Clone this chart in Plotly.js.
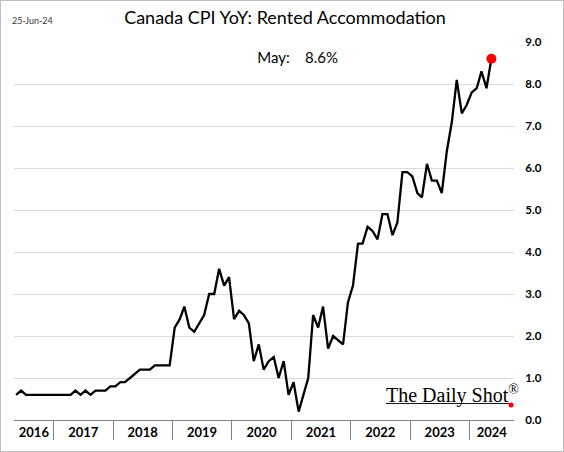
<!DOCTYPE html>
<html>
<head>
<meta charset="utf-8">
<script src="https://cdn.plot.ly/plotly-3.0.1.min.js"></script>
<style>
  html, body { margin: 0; padding: 0; background: #fff; }
  #wrap { position: relative; width: 564px; height: 452px; }
  #chart { width: 564px; height: 452px; }
  #frame { position: absolute; left: 0; top: 0; width: 564px; height: 452px;
           box-sizing: border-box; border: 1px solid #bdbdbd; pointer-events: none; }
</style>
</head>
<body>
<div id="wrap"><div id="chart"></div><div id="frame"></div></div>
<script>
// Canada CPI, rented accommodation, year-over-year % change (monthly, from May 2016)
const startYear = 2016;
const startMonth = 5;
const rentYoY = [
  0.6, 0.7, 0.6, 0.6, 0.6, 0.6, 0.6, 0.6,                               // 2016 May-Dec
  0.6, 0.6, 0.6, 0.6, 0.7, 0.6, 0.7, 0.6, 0.7, 0.7, 0.7, 0.8,           // 2017
  0.8, 0.9, 0.9, 1.0, 1.1, 1.2, 1.2, 1.2, 1.3, 1.3, 1.3, 1.3,           // 2018
  2.2, 2.4, 2.7, 2.2, 2.1, 2.3, 2.5, 3.0, 3.0, 3.6, 3.2, 3.4,           // 2019
  2.4, 2.6, 2.5, 2.3, 1.4, 1.8, 1.2, 1.4, 1.5, 1.0, 1.4, 0.6,           // 2020
  0.9, 0.2, 0.6, 1.0, 2.5, 2.2, 2.7, 1.7, 2.0, 1.9, 1.8, 2.8,           // 2021
  3.2, 4.2, 4.2, 4.6, 4.5, 4.3, 4.9, 4.9, 4.4, 4.7, 5.9, 5.9,           // 2022
  5.8, 5.4, 5.3, 6.1, 5.7, 5.7, 5.4, 6.4, 7.1, 8.1, 7.3, 7.5,           // 2023
  7.8, 7.9, 8.3, 7.9, 8.6                                               // 2024 Jan-May
];
const yearLabels = ['2016', '2017', '2018', '2019', '2020', '2021', '2022', '2023', '2024'];
const axisStart = '2016-05-02';
const axisEnd = '2024-10-01';
const releaseDate = '25-Jun-24';
const latestMonthName = 'May';
const yTicks = [0, 1, 2, 3, 4, 5, 6, 7, 8, 9];

// mid-month dates for each observation
const dates = rentYoY.map((_, i) => {
  const m = startMonth - 1 + i;
  const y = startYear + Math.floor(m / 12);
  const mm = (m % 12) + 1;
  return `${y}-${String(mm).padStart(2, '0')}-15`;
});

// each year label sits in the middle of the visible part of that year
const t0 = Date.parse(axisStart), t1 = Date.parse(axisEnd);
const yearLabelPos = yearLabels.map(y => {
  const a = Math.max(Date.parse(`${y}-01-01`), t0);
  const b = Math.min(Date.parse(`${+y + 1}-01-01`), t1);
  return new Date((a + b) / 2).toISOString().slice(0, 10);
});

const lastIdx = rentYoY.length - 1;
const lastVal = rentYoY[lastIdx];

const W = 564, H = 452;
const M = { l: 14, r: 50, t: 42, b: 32 };
const PW = W - M.l - M.r, PH = H - M.t - M.b;
const px = x => (x - M.l) / PW;          // figure pixel -> paper x
const py = y => (H - M.b - y) / PH;      // figure pixel -> paper y

const traces = [
  {
    x: dates, y: rentYoY, type: 'scatter', mode: 'lines',
    line: { color: '#000000', width: 2.3 },
    hoverinfo: 'skip'
  },
  {
    x: [dates[lastIdx]], y: [lastVal], type: 'scatter', mode: 'markers',
    marker: { color: '#ff0000', size: 10 },
    cliponaxis: false, hoverinfo: 'skip'
  }
];

const layout = {
  width: W, height: H,
  margin: M,
  paper_bgcolor: '#ffffff', plot_bgcolor: '#ffffff',
  showlegend: false,
  font: { family: 'Lato, "Open Sans", sans-serif', color: '#000000' },
  title: {
    text: 'Canada CPI YoY: Rented Accommodation',
    font: { family: 'Lato, sans-serif', size: 18, color: '#000000' },
    xref: 'container', x: 285 / W, xanchor: 'center',
    yref: 'container', y: 1 - 18 / H, yanchor: 'middle'
  },
  xaxis: {
    type: 'date',
    range: [axisStart, axisEnd],
    tickmode: 'array', tickvals: yearLabelPos, ticktext: yearLabels,
    ticks: '',
    tickfont: { size: 13, weight: 'bold', color: '#000000' },
    showgrid: false, zeroline: false,
    showline: true, linecolor: '#7f7f7f', linewidth: 1,
    minor: {
      ticks: 'outside', ticklen: 19, tickwidth: 1, tickcolor: '#7f7f7f',
      tick0: '2016-01-01', dtick: 'M12', showgrid: false
    },
    fixedrange: true
  },
  yaxis: {
    side: 'right',
    range: [0, 9],
    tickmode: 'array', tickvals: yTicks,
    tickformat: '.1f',
    ticks: 'outside', ticklen: 8, tickcolor: 'rgba(0,0,0,0)',
    tickfont: { size: 11.5, weight: 'bold', color: '#000000' },
    showgrid: true, gridcolor: '#d9d9d9', gridwidth: 1,
    zeroline: false, showline: false,
    fixedrange: true
  },
  annotations: [
    {
      text: releaseDate, showarrow: false,
      xref: 'paper', yref: 'paper', x: px(10), y: py(21),
      xanchor: 'left', yanchor: 'middle',
      font: { size: 9, color: '#333333' }
    },
    {
      text: `${latestMonthName}:&nbsp;&nbsp;&nbsp;&nbsp;${lastVal.toFixed(1)}%`,
      showarrow: false,
      xref: 'paper', yref: 'paper', x: px(287.5), y: py(57),
      xanchor: 'center', yanchor: 'middle',
      width: 100, height: 26, align: 'right', valign: 'middle',
      bgcolor: '#ffffff', borderpad: 8,
      font: { size: 15, color: '#000000' }
    },
    {
      text: 'The Daily Shot<sup>®</sup>', showarrow: false,
      xref: 'paper', yref: 'paper', x: px(384), y: py(394),
      xanchor: 'left', yanchor: 'middle',
      font: { family: '"Liberation Serif", "DejaVu Serif", serif', size: 20, color: '#000000' }
    }
  ],
  shapes: [
    // logo underline and dot
    {
      type: 'line', xref: 'paper', yref: 'paper',
      x0: px(386), x1: px(509), y0: py(403.5), y1: py(403.5),
      line: { color: '#1a1a1a', width: 1 }
    },
    {
      type: 'circle', xref: 'paper', yref: 'paper',
      x0: px(508.5), x1: px(513.5), y0: py(402.5), y1: py(407.5),
      fillcolor: '#ff0000', line: { width: 0 }
    }
  ]
};

Plotly.newPlot('chart', traces, layout, { staticPlot: true, displayModeBar: false });
</script>
</body>
</html>
